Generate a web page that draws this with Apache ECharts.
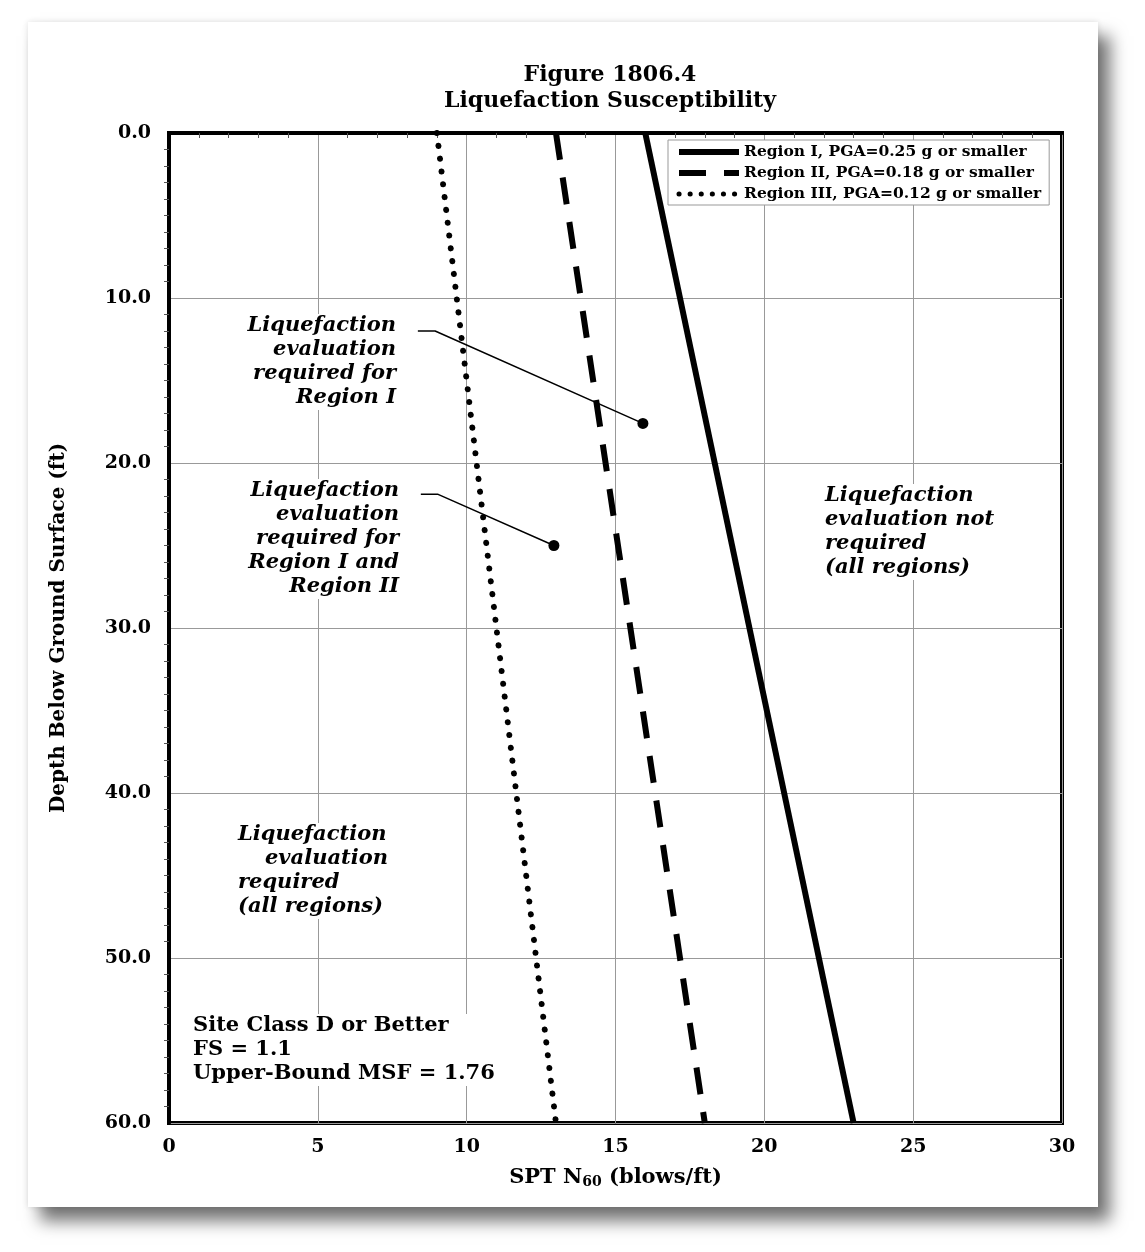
<!DOCTYPE html>
<html>
<head>
<meta charset="utf-8">
<script src="https://cdn.jsdelivr.net/npm/echarts@6/dist/echarts.min.js"></script>
<style>
  html, body { margin:0; padding:0; background:#fff; }
  #card { position:absolute; left:28px; top:22px; width:1070px; height:1185px; background:#fff;
          box-shadow: 12px 14px 16px rgba(0,0,0,0.55), 0 0 6px rgba(0,0,0,0.12); }
  #chart { position:absolute; left:0; top:0; width:1145px; height:1252px; }
</style>
</head>
<body>
<div id="card"></div>
<div id="chart"></div>
<script>
// ---- data ----
const depthFt = [0, 60];
const region1N60 = [16, 23];
const region2N60 = [13, 18];
const region3N60 = [9, 13];
const seriesNames = [
  'Region I, PGA=0.25 g or smaller',
  'Region II, PGA=0.18 g or smaller',
  'Region III, PGA=0.12 g or smaller'
];
// leader lines for annotations: [N60, depth]
const leaderRegionI = [[8.36, 12.0], [8.94, 12.0], [15.92, 17.6]];
const leaderRegionI_II = [[8.46, 21.9], [9.04, 21.9], [12.93, 25.0]];
const xTickStep = 5;
const yTickStep = 10;

const pairs = (xs) => xs.map((x, i) => [x, depthFt[i]]);

const SERIF = '"DejaVu Serif", "Liberation Serif", serif';
const chart = echarts.init(document.getElementById('chart'), null, { renderer: 'canvas' });

const styleSolid = { color: '#000', width: 6, type: 'solid' };
const styleDash = { color: '#000', width: 6, type: [27, 18], cap: 'butt' };
const styleDot = { color: '#000', width: 6, type: [0.1, 12.8], cap: 'round' };

const annText = (x, y, text, align, font) => ({
  type: 'text', x: x, y: y, z: 1,
  style: {
    text: text, align: align, verticalAlign: 'top',
    font: font || ('italic bold 21px ' + SERIF), lineHeight: 24,
    fill: '#000', backgroundColor: '#fff'
  }
});

chart.setOption({
  animation: false,
  title: {
    text: 'Figure 1806.4\nLiquefaction Susceptibility',
    left: 605, top: 57, textAlign: 'center',
    textStyle: { fontFamily: SERIF, fontWeight: 'bold', fontSize: 22, lineHeight: 26, color: '#000' }
  },
  grid: { left: 169, top: 133, right: 83, bottom: 129, show: true, borderColor: '#000', borderWidth: 4, backgroundColor: 'transparent' },
  legend: {
    orient: 'vertical', left: 668, top: 140,
    data: [
      { name: seriesNames[0], lineStyle: styleSolid },
      { name: seriesNames[1], lineStyle: styleDash },
      { name: seriesNames[2], lineStyle: Object.assign({}, styleDot, { width: 5, type: [0.1, 11] }) }
    ],
    itemWidth: 60, itemHeight: 12, itemGap: 5,
    padding: [4, 8, 3, 8],
    itemStyle: { color: 'rgba(0,0,0,0)', borderWidth: 0 },
    backgroundColor: '#fff', borderColor: '#999', borderWidth: 1,
    textStyle: { fontFamily: SERIF, fontWeight: 'bold', fontSize: 15.5, color: '#000' },
    selectedMode: false
  },
  xAxis: {
    type: 'value', min: 0, max: 30, interval: xTickStep,
    name: '{a|SPT N}{s|60}{a| (blows/ft)}',
    nameLocation: 'middle', nameGap: 43,
    nameTextStyle: {
      rich: {
        a: { fontFamily: SERIF, fontWeight: 'bold', fontSize: 21, color: '#000' },
        s: { fontFamily: SERIF, fontWeight: 'bold', fontSize: 14, color: '#000', verticalAlign: 'bottom', padding: [9, 0, 0, 0] }
      }
    },
    axisLine: { show: true, lineStyle: { color: '#000', width: 4 } },
    axisTick: { show: false },
    minorTick: { show: true, splitNumber: 5, length: 5, lineStyle: { color: '#555', width: 1 } },
    axisLabel: { margin: 15, fontFamily: SERIF, fontWeight: 'bold', fontSize: 19, color: '#000' },
    splitLine: { show: true, lineStyle: { color: '#999', width: 1 } }
  },
  yAxis: {
    type: 'value', min: 0, max: 60, interval: yTickStep, inverse: true,
    name: 'Depth Below Ground Surface (ft)',
    nameLocation: 'middle', nameGap: 100,
    nameTextStyle: { fontFamily: SERIF, fontWeight: 'bold', fontSize: 20, color: '#000' },
    axisLine: { show: true, lineStyle: { color: '#000', width: 4 } },
    axisTick: { show: false },
    minorTick: { show: true, splitNumber: 10, length: 5, lineStyle: { color: '#555', width: 1 } },
    axisLabel: { margin: 18, fontFamily: SERIF, fontWeight: 'bold', fontSize: 19, color: '#000',
                 formatter: v => v.toFixed(1) },
    splitLine: { show: true, lineStyle: { color: '#999', width: 1 } }
  },
  series: [
    { name: seriesNames[0], type: 'line', data: pairs(region1N60), symbol: 'none', z: 3,
      itemStyle: { color: '#000' }, lineStyle: styleSolid },
    { name: seriesNames[1], type: 'line', data: pairs(region2N60), symbol: 'none', z: 3,
      itemStyle: { color: '#000' }, lineStyle: styleDash },
    { name: seriesNames[2], type: 'line', data: pairs(region3N60), symbol: 'none', z: 3,
      itemStyle: { color: '#000' }, lineStyle: styleDot },
    { name: 'leader1', type: 'line', data: leaderRegionI, symbol: 'none', z: 4,
      lineStyle: { color: '#000', width: 1.5 } },
    { name: 'leader2', type: 'line', data: leaderRegionI_II, symbol: 'none', z: 4,
      lineStyle: { color: '#000', width: 1.5 } },
    { name: 'dots', type: 'scatter', z: 5, symbolSize: 11,
      data: [leaderRegionI[leaderRegionI.length - 1], leaderRegionI_II[leaderRegionI_II.length - 1]],
      itemStyle: { color: '#000', opacity: 1 } }
  ],
  graphic: [
    annText(396, 314, 'Liquefaction\nevaluation\nrequired for\nRegion I', 'right'),
    annText(399, 479, 'Liquefaction\nevaluation\nrequired for\nRegion I and\nRegion II', 'right'),
    annText(825, 484, 'Liquefaction\nevaluation not\nrequired\n(all regions)', 'left'),
    annText(238, 823, 'Liquefaction', 'left'),
    annText(265, 847, 'evaluation', 'left'),
    annText(238, 871, 'required', 'left'),
    annText(238, 895, '(all regions)', 'left'),
    annText(193, 1014, 'Site Class D or Better\nFS = 1.1\nUpper-Bound MSF = 1.76', 'left', 'bold 21px ' + SERIF)
  ]
});
</script>
</body>
</html>
